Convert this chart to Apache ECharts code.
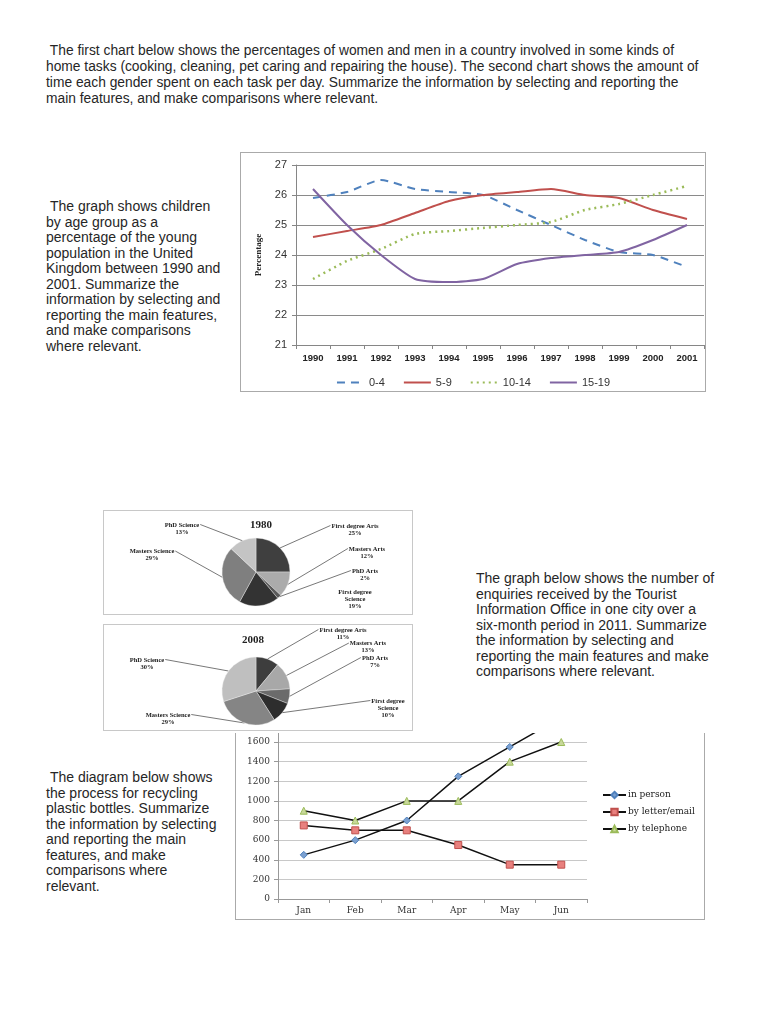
<!DOCTYPE html>
<html><head><meta charset="utf-8">
<script src="https://cdn.jsdelivr.net/npm/echarts@6/dist/echarts.min.js"></script>
<style>
body{margin:0;background:#fff;width:768px;height:1024px;position:relative;overflow:hidden;font-family:"Liberation Sans",Arial,sans-serif;color:#262626;}
.t{position:absolute;font-size:14px;white-space:nowrap;}
.c{position:absolute;}
</style></head><body>
<div class="t" style="left:46px;top:43px;line-height:16px;font-size:13.8px">&nbsp;The first chart below shows the percentages of women and men in a country involved in some kinds of<br>home tasks (cooking, cleaning, pet caring and repairing the house). The second chart shows the amount of<br>time each gender spent on each task per day. Summarize the information by selecting and reporting the<br>main features, and make comparisons where relevant.</div>
<div class="t" style="left:46px;top:199px;line-height:15.5px">&nbsp;The graph shows children<br>by age group as a<br>percentage of the young<br>population in the United<br>Kingdom between 1990 and<br>2001. Summarize the<br>information by selecting and<br>reporting the main features,<br>and make comparisons<br>where relevant.</div>
<div class="t" style="left:476px;top:571px;line-height:15.5px">The graph below shows the number of<br>enquiries received by the Tourist<br>Information Office in one city over a<br>six-month period in 2011. Summarize<br>the information by selecting and<br>reporting the main features and make<br>comparisons where relevant.</div>
<div class="t" style="left:46px;top:770px;line-height:15.5px">&nbsp;The diagram below shows<br>the process for recycling<br>plastic bottles. Summarize<br>the information by selecting<br>and reporting the main<br>features, and make<br>comparisons where<br>relevant.</div>

<div id="ch1" class="c" style="left:241px;top:153px;width:464px;height:238px;outline:1px solid #aaa;"></div>
<div id="pie1" class="c" style="left:104px;top:511px;width:308px;height:103px;outline:1px solid #c8c8c8;"></div>
<div id="pie2" class="c" style="left:104px;top:625px;width:308px;height:105px;outline:1px solid #c8c8c8;"></div>
<div class="c" style="left:235px;top:733px;width:470px;height:187px;box-sizing:border-box;border:1px solid #aaa;border-top:none;overflow:hidden;background:#fff;">
  <div id="ch4" style="position:absolute;left:0;top:-30px;width:468px;height:216px;"></div>
</div>

<script>
// ---- Chart 1 data ----
var years = ['1990','1991','1992','1993','1994','1995','1996','1997','1998','1999','2000','2001'];
var age0to4   = [25.9, 26.1, 26.5, 26.2, 26.1, 26.0, 25.5, 25.0, 24.5, 24.1, 24.0, 23.6];
var age5to9   = [24.6, 24.8, 25.0, 25.4, 25.8, 26.0, 26.1, 26.2, 26.0, 25.9, 25.5, 25.2];
var age10to14 = [23.2, 23.8, 24.2, 24.7, 24.8, 24.9, 25.0, 25.1, 25.5, 25.7, 26.0, 26.3];
var age15to19 = [26.2, 25.0, 24.0, 23.2, 23.1, 23.2, 23.7, 23.9, 24.0, 24.1, 24.5, 25.0];
var pctTicks  = [21, 22, 23, 24, 25, 26, 27];

// ---- Pie data ----
var pieNames = ['First degree Arts','Masters Arts','PhD Arts','First degree Science','Masters Science','PhD Science'];
var pie1980 = [25, 12, 2, 19, 29, 13];
var pie2008 = [11, 13, 7, 10, 29, 30];
var pieColors1980 = ['#3f3f3f','#ababab','#595959','#333333','#7f7f7f','#c4c4c4'];
var pieColors2008 = ['#3d3d3d','#a8a8a8','#6b6b6b','#2d2d2d','#858585','#bfbfbf'];

// ---- Chart 4 data ----
var months   = ['Jan','Feb','Mar','Apr','May','Jun'];
var inPerson = [450, 600, 800, 1250, 1550, 1850];
var byLetter = [750, 700, 700, 550, 350, 350];
var byPhone  = [900, 800, 1000, 1000, 1400, 1600];
var enqTicks = [0, 200, 400, 600, 800, 1000, 1200, 1400, 1600, 1800];

// ---- Layout (label anchor positions within pie boxes) ----
var labelPos1980 = [[251,18.5],[263,41.5],[261,63.5],[251,88],[48,44],[78,17.5]];
var labelPos2008 = [[239,8.5],[264,22],[271,36.5],[284,83],[64,93.5],[43,38.5]];

var c1 = echarts.init(document.getElementById('ch1'));
function lineSeries(name, data, color, type, width){
  return {name:name,type:'line',data:data,symbol:'none',smooth:0.2,
    lineStyle:{color:color,width:width,type:type},itemStyle:{color:color}};
}
c1.setOption({
  animation:false,
  grid:{left:55,right:1,top:12,bottom:46},
  legend:{top:219,left:'center',itemWidth:27,itemHeight:10,itemGap:18,
    itemStyle:{opacity:0},
    textStyle:{fontFamily:'Liberation Sans',fontSize:11,color:'#333'},
    data:['0-4','5-9','10-14','15-19']},
  xAxis:{type:'category',data:years,boundaryGap:true,
    axisLine:{lineStyle:{color:'#868686'}},
    axisTick:{show:true,length:4,interval:0,lineStyle:{color:'#868686'}},
    axisLabel:{fontFamily:'Liberation Sans',fontWeight:'bold',fontSize:9.5,color:'#222',margin:8,interval:0}},
  yAxis:{type:'value',min:pctTicks[0],max:pctTicks[pctTicks.length-1],interval:pctTicks[1]-pctTicks[0],
    name:'Percentage',nameLocation:'middle',nameGap:33,nameRotate:90,
    nameTextStyle:{fontFamily:'Liberation Serif',fontWeight:'bold',fontSize:9,color:'#222'},
    axisLine:{show:true,lineStyle:{color:'#868686'}},
    axisTick:{show:true,length:4,lineStyle:{color:'#868686'}},
    axisLabel:{fontFamily:'Liberation Sans',fontSize:11,color:'#333',margin:9},
    splitLine:{lineStyle:{color:'#8a8a8a'}}},
  series:[
    lineSeries('0-4',age0to4,'#4F81BD',[8,6],2),
    lineSeries('5-9',age5to9,'#C0504D','solid',2),
    lineSeries('10-14',age10to14,'#9BBB59',[2,4],2.5),
    lineSeries('15-19',age15to19,'#8064A2','solid',2)
  ]
});

function pieOption(title, titlePos, values, colors, pos, center, noLineIdx){
  var data = pieNames.map(function(n,i){
    var d = {name:n,value:values[i],itemStyle:{color:colors[i]}};
    if (noLineIdx.indexOf(i) >= 0) d.labelLine = {show:false};
    return d;
  });
  return {
    animation:false,
    title:{text:title,left:titlePos[0],top:titlePos[1],textAlign:'center',
      textStyle:{fontFamily:'Liberation Serif',fontWeight:'bold',fontSize:11,color:'#222'}},
    series:[{type:'pie',center:center,radius:34,avoidLabelOverlap:false,silent:true,
      startAngle:90,clockwise:true,data:data,
      itemStyle:{borderColor:'#eee',borderWidth:0.4},
      label:{show:true,position:'outside',fontFamily:'Liberation Serif',fontWeight:'bold',
        fontSize:6.5,lineHeight:7,color:'#222',align:'center',
        formatter:function(p){return p.name.replace('First degree Science','First degree\nScience')+'\n'+p.value+'%';}},
      labelLine:{show:true,length:5,length2:5,lineStyle:{color:'#555',width:0.8}},
      labelLayout:function(p){
        var q = pos[p.dataIndex];
        var w = p.labelRect.width, h = p.labelRect.height;
        var res = {x:q[0],y:q[1],align:'center',verticalAlign:'middle'};
        var s = p.labelLinePoints && p.labelLinePoints[0];
        if (s && noLineIdx.indexOf(p.dataIndex) < 0) {
          var ex = s[0] < q[0] ? q[0]-w/2-1 : q[0]+w/2+1;
          var ey = q[1]-h/2+3;
          res.labelLinePoints = [s,[ex,ey],[ex,ey]];
        }
        return res;
      }
    }]
  };
}
var p1 = echarts.init(document.getElementById('pie1'));
p1.setOption(pieOption('1980',[152,4],pie1980,pieColors1980,labelPos1980,[152,61],[3]));
var p2 = echarts.init(document.getElementById('pie2'));
p2.setOption(pieOption('2008',[144,5],pie2008,pieColors2008,labelPos2008,[152,66],[]));

var c4 = echarts.init(document.getElementById('ch4'));
var serifFont = 'DejaVu Serif';
c4.setOption({
  animation:false,
  grid:{left:42,right:117,top:19.4,bottom:20},
  legend:{orient:'vertical',left:361,top:81,itemWidth:23,itemHeight:8,itemGap:5,
    textStyle:{fontFamily:serifFont,fontSize:9,color:'#222',lineHeight:12,padding:[0,0,0,-3]},
    data:['in person','by letter/email','by telephone']},
  xAxis:{type:'category',data:months,boundaryGap:true,
    axisLine:{lineStyle:{color:'#999'}},
    axisTick:{show:true,length:4,interval:0,lineStyle:{color:'#999'}},
    axisLabel:{fontFamily:serifFont,fontSize:9,color:'#333',margin:7}},
  yAxis:{type:'value',min:enqTicks[0],max:enqTicks[enqTicks.length-1],interval:enqTicks[1]-enqTicks[0],
    axisLine:{show:true,lineStyle:{color:'#999'}},
    axisTick:{show:true,length:4,lineStyle:{color:'#999'}},
    axisLabel:{fontFamily:serifFont,fontSize:9,color:'#333',margin:8,
      formatter:function(v){return String(v);}},
    splitLine:{lineStyle:{color:'#c8c8c8'}}},
  series:[
    {name:'in person',type:'line',data:inPerson,symbol:'diamond',symbolSize:7,
      lineStyle:{color:'#111',width:1.5},itemStyle:{color:'#7ba0d0',borderColor:'#4F81BD',borderWidth:1}},
    {name:'by letter/email',type:'line',data:byLetter,symbol:'rect',symbolSize:7,
      lineStyle:{color:'#111',width:1.5},itemStyle:{color:'#e8807e',borderColor:'#C0504D',borderWidth:1}},
    {name:'by telephone',type:'line',data:byPhone,symbol:'triangle',symbolSize:7,
      lineStyle:{color:'#111',width:1.5},itemStyle:{color:'#c8d89a',borderColor:'#9BBB59',borderWidth:1}}
  ]
});
</script>
</body></html>
